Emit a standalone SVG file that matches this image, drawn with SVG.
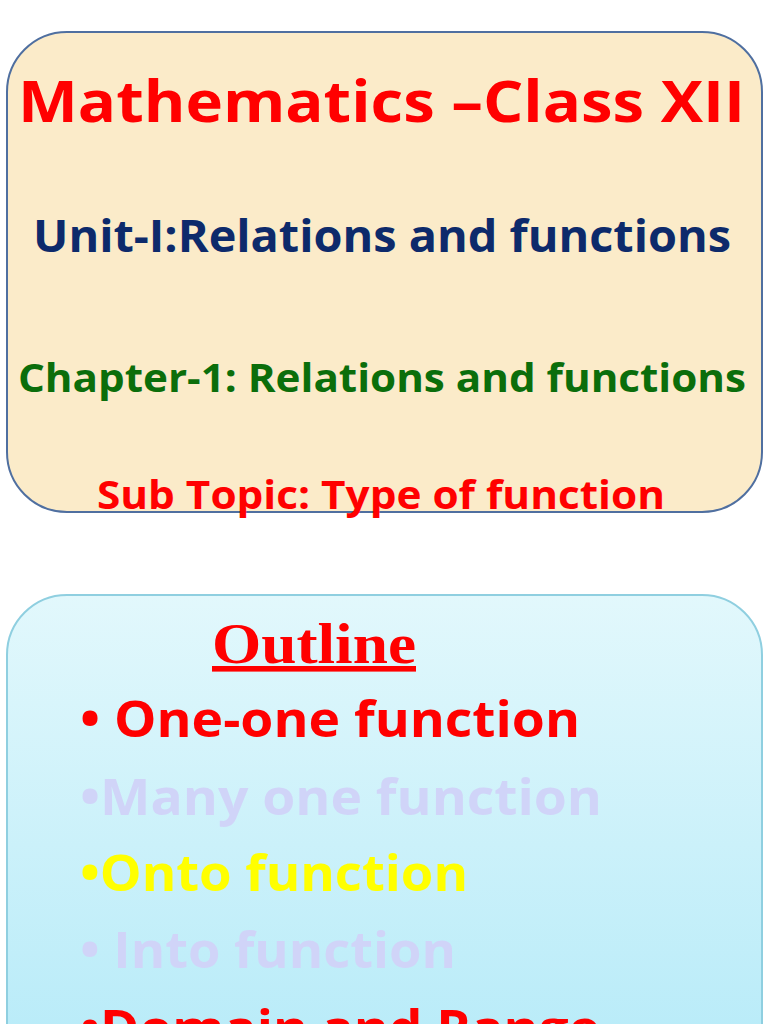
<svg xmlns="http://www.w3.org/2000/svg" width="768" height="1024" viewBox="0 0 768 1024">
<defs>
<linearGradient id="g2" x1="0" y1="0" x2="0" y2="1"><stop offset="0" stop-color="#e2f8fc"/><stop offset="1" stop-color="#b4eaf8"/></linearGradient>
<style>
.s{font-family:"Open Sans","Liberation Sans",sans-serif;font-weight:bold}
</style>
</defs>
<rect width="768" height="1024" fill="#fff"/>
<g id="title-box">
<rect x="7" y="32" width="755" height="480" rx="60" fill="#fbebc9" stroke="#4f6fa0" stroke-width="2"/>
<text class="s" x="18" y="122" font-size="58" fill="#ff0000" textLength="727" lengthAdjust="spacingAndGlyphs">Mathematics –Class XII</text>
<text class="s" x="33" y="252" font-size="44" fill="#0d2a6b" textLength="698" lengthAdjust="spacingAndGlyphs">Unit-I:Relations and functions</text>
<text class="s" x="18" y="392" font-size="40" fill="#0b6e0b" textLength="728" lengthAdjust="spacingAndGlyphs">Chapter-1: Relations and functions</text>
<text class="s" x="97" y="509" font-size="40" fill="#ff0000" textLength="568" lengthAdjust="spacingAndGlyphs">Sub Topic: Type of function</text>
</g>
<g id="outline-box">
<rect x="7" y="595" width="755" height="500" rx="60" fill="url(#g2)" stroke="#8fcfe0" stroke-width="2"/>
<text x="212" y="663" font-family="Liberation Serif,serif" font-weight="bold" font-size="56" fill="#ff0000" text-decoration="underline" textLength="204" lengthAdjust="spacingAndGlyphs">Outline</text>
<text class="s" x="80" y="737" font-size="50" fill="#ff0000" textLength="500" lengthAdjust="spacingAndGlyphs">• One-one function</text>
<text class="s" x="80" y="815" font-size="50" fill="#d0d4f8" textLength="522" lengthAdjust="spacingAndGlyphs">•Many one function</text>
<text class="s" x="80" y="891" font-size="50" fill="#ffff00" textLength="388" lengthAdjust="spacingAndGlyphs">•Onto function</text>
<text class="s" x="80" y="968" font-size="50" fill="#d0d4f8" textLength="376" lengthAdjust="spacingAndGlyphs">• Into function</text>
<text class="s" x="80" y="1046" font-size="50" fill="#ff0000" textLength="520" lengthAdjust="spacingAndGlyphs">•Domain and Range</text>
</g>
</svg>
